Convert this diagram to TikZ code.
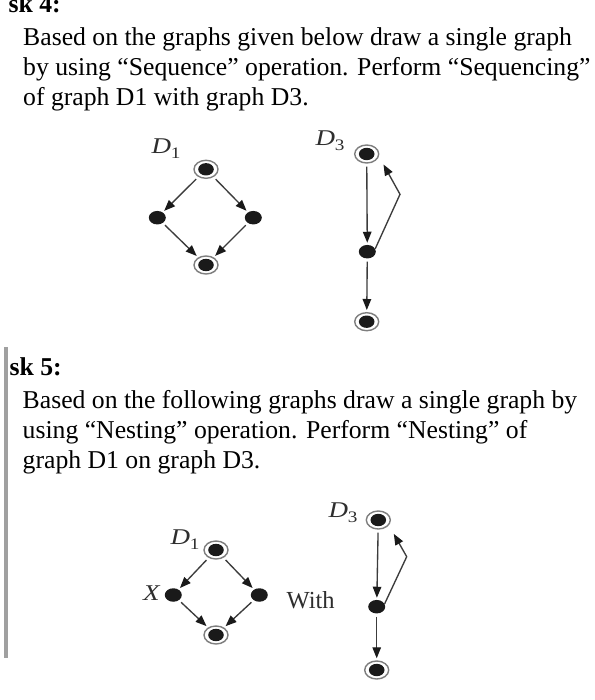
\documentclass[tikz,border=0pt]{standalone}
\usepackage{fontspec}
\setmainfont{Liberation Serif}
\usepackage{graphicx}
\usetikzlibrary{shapes.geometric,arrows.meta}
\definecolor{ringgray}{HTML}{7E7E7E}
\definecolor{nodeblack}{HTML}{1A1A1A}
\definecolor{edgegray}{HTML}{3C3C3C}
\definecolor{bargray}{HTML}{A0A0A0}
\definecolor{labgray}{HTML}{2E2E2E}
\newcommand{\glabtext}[2]{\scalebox{1.2}[1]{\textit{#1}\kern-0.3pt\raisebox{-5pt}{\fontsize{16}{16}\selectfont #2}}}
\begin{document}
\begin{tikzpicture}[x=1pt,y=-1pt,
  plainv/.style={ellipse, fill=nodeblack, minimum width=17pt, minimum height=13.5pt, inner sep=0pt},
  termv/.style={ellipse, draw=ringgray, line width=1.4pt, fill=white, minimum width=24pt, minimum height=18pt, inner sep=0pt,
    path picture={\fill[nodeblack] (path picture bounding box.center) ellipse (7.8pt and 6.2pt);}},
  edge/.style={draw=edgegray, line width=1.35pt, -{Triangle[length=11pt,width=8.5pt,color=nodeblack]}, shorten >=2pt, shorten <=3pt},
  body/.style={anchor=base west, inner sep=0pt, font=\fontsize{25.7}{30}\selectfont, text=black},
  head/.style={anchor=base east, inner sep=0pt, font=\bfseries\fontsize{25.7}{30}\selectfont, text=black},
  glab/.style={inner sep=0pt, text=labgray, font=\fontsize{22.5}{23}\selectfont}
]
\useasboundingbox (0,0) rectangle (594,700);
\fill[white] (0,0) rectangle (594,700);

% ---------- Task 4 ----------
\node[head] (h4) at (61,13) {sk 4:};
\node[body] (t4a) at (23,46) {Based on the graphs given below draw a single graph};
\node[body] (t4b) at (23,76) {by using “Sequence” operation. Perform “Sequencing”};
\node[body] (t4c) at (23,106) {of graph D1 with graph D3.};

% D1 (task 4)
\node[glab] (l41) at (166,149) {\glabtext{D}{1}};
\node[termv]  (a1t) at (206,169.3) {};
\node[plainv] (a1l) at (157.3,217.7) {};
\node[plainv] (a1r) at (253.3,217.7) {};
\node[termv]  (a1b) at (206,265) {};
\draw[edge] (a1t) -- (a1l);
\draw[edge] (a1t) -- (a1r);
\draw[edge] (a1l) -- (a1b);
\draw[edge] (a1r) -- (a1b);

% D3 (task 4)
\node[glab] (l43) at (330,141) {\glabtext{D}{3}};
\node[termv]  (b1t) at (366.7,154) {};
\node[plainv] (b1m) at (367.3,251.7) {};
\node[termv]  (b1b) at (366.7,321.7) {};
\coordinate (b1c) at (400,194.3);
\coordinate (b1e) at ([shift={(7.8,3.6)}]b1t.south east);
\draw[edge] (b1t) -- (b1m);
\draw[edge] (b1m) -- (b1b);
\draw[edge, shorten <=0pt, shorten >=0pt, line join=miter] (b1m.20) -- (b1c) -- (b1e);

% ---------- Task 5 ----------
\node[head] (h5) at (62,375) {sk 5:};
\fill[bargray] (3.5,347) rectangle (8,658);
\node[body] (t5a) at (22.5,408) {Based on the following graphs draw a single graph by};
\node[body] (t5b) at (22.5,438) {using “Nesting” operation. Perform “Nesting” of};
\node[body] (t5c) at (22.5,468) {graph D1 on graph D3.};

% D1 (task 5)
\node[glab] (l51) at (185,540) {\glabtext{D}{1}};
\node[termv]  (c2t) at (216,550) {};
\node[plainv] (c2x) at (173.3,595) {};
\node[plainv] (c2r) at (259.3,595) {};
\node[termv]  (c2b) at (216,635) {};
\node[glab] (lx) at (151.7,593.3) {\scalebox{1.2}[1]{\textit{X}}};
\draw[edge] (c2t) -- (c2x);
\draw[edge] (c2t) -- (c2r);
\draw[edge] (c2x) -- (c2b);
\draw[edge] (c2r) -- (c2b);

\node[anchor=base west, inner sep=0pt, text=labgray, font=\fontsize{24.5}{24.5}\selectfont] (with) at (286.5,608) {With};

% D3 (task 5)
\node[glab] (l53) at (343,513) {\glabtext{D}{3}};
\node[termv]  (d2t) at (378.3,520) {};
\node[plainv] (d2m) at (376.7,606.7) {};
\node[termv]  (d2b) at (376.7,670) {};
\coordinate (d2c) at (406.7,556.7);
\coordinate (d2e) at ([shift={(6.5,7)}]d2t.south east);
\draw[edge] (d2t) -- (d2m);
\draw[edge] (d2m) -- (d2b);
\draw[edge, shorten <=0pt, shorten >=0pt, line join=miter] (d2m.20) -- (d2c) -- (d2e);
\end{tikzpicture}
\end{document}
